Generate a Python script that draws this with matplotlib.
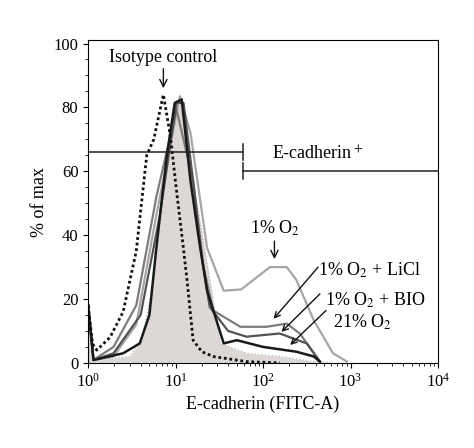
import matplotlib
matplotlib.use("Agg")
import matplotlib.pyplot as plt
import numpy as np

plt.rcParams['font.family'] = ['Liberation Serif', 'DejaVu Serif']
plt.rcParams['mathtext.fontset'] = 'stix'

iso_lx = [0, 0.05, 0.099, 0.25, 0.40, 0.55, 0.67, 0.75, 0.86, 0.94, 1.01, 1.08, 1.13, 1.20, 1.30, 1.43, 1.81, 2.19]
iso_y = [18, 6, 4, 8, 16, 35, 65, 70, 84, 71, 54, 38, 26, 7.1, 3.5, 2, 0.4, 0]
fill_lx = [0, 0.061, 0.48, 0.62, 0.75, 0.90, 1.05, 1.12, 1.20, 1.36, 1.51, 1.81, 2.19, 2.58, 2.80]
fill_y = [18, 0.9, 2, 8, 26, 62, 82.5, 72, 57, 31, 6.1, 3, 2, 0.4, 0]
blk_lx = [0, 0.061, 0.40, 0.59, 0.70, 0.78, 0.90, 0.99, 1.07, 1.17, 1.27, 1.36, 1.55, 1.70, 2.00, 2.38, 2.58, 2.65]
blk_y = [18, 0.9, 3, 6.1, 15, 36, 65, 81.4, 82.5, 57, 38, 22.6, 6.1, 7.1, 5, 3.5, 2, 0.4]
bio_lx = [0, 0.061, 0.29, 0.60, 0.82, 1.01, 1.09, 1.20, 1.30, 1.39, 1.60, 1.81, 2.19, 2.50, 2.65]
bio_y = [18, 0.9, 3, 15, 46.3, 81.4, 81.4, 57, 33, 17.5, 10, 8.2, 9.2, 6.1, 0.4]
licl_lx = [0, 0.061, 0.29, 0.55, 0.78, 1.01, 1.20, 1.32, 1.43, 1.74, 2.04, 2.27, 2.42, 2.65]
licl_y = [18, 0.9, 5, 18, 52, 79.4, 57, 30, 16.4, 11.3, 11.3, 12.3, 9.2, 0.4]
o1_lx = [0, 0.061, 0.29, 0.55, 0.78, 1.05, 1.17, 1.36, 1.55, 1.75, 1.89, 2.08, 2.27, 2.38, 2.58, 2.80, 2.96]
o1_y = [18, 0.9, 2, 12, 46.3, 83.5, 72, 36, 22.6, 23, 26, 30, 30, 26, 13.3, 3, 0.4]

fig = plt.figure(figsize=(4.74, 4.48), dpi=100)
ax = fig.add_axes([0.186, 0.19, 0.738, 0.72])

def X(l): return 10 ** np.array(l)

ax.fill_between(X(fill_lx), fill_y, color='#ddd8d6', lw=0)
ax.plot(X(fill_lx), fill_y, color='#c0bbbb', lw=1, ls=(0, (1, 1.5)))
ax.plot(X(o1_lx), o1_y, color='#a9a5a5', lw=1.6)
ax.plot(X(licl_lx), licl_y, color='#7f7b7b', lw=1.6)
ax.plot(X(bio_lx), bio_y, color='#555252', lw=1.6)
ax.plot(X(blk_lx), blk_y, color='#1a1a1a', lw=1.8)
ax.plot(X(iso_lx), iso_y, color='#111111', lw=2, ls=(0, (1, 1)))

ax.set_xscale('log')
ax.set_xlim(1, 1e4)
ax.set_ylim(0, 101)
ax.set_yticks([0, 20, 40, 60, 80, 100])
ax.set_yticks(np.arange(0, 101, 5), minor=True)
ax.tick_params(labelsize=12)
ax.set_xlabel('E-cadherin (FITC-A)', fontsize=13)
ax.set_ylabel('% of max', fontsize=13)

g = 10 ** 1.77
ax.plot([1, g], [66, 66], color='#222', lw=1.1)
ax.plot([g, g], [63.5, 68.5], color='#222', lw=1.1)
ax.plot([g, 1e4], [60, 60], color='#222', lw=1.1)
ax.plot([g, g], [57.5, 62.5], color='#222', lw=1.1)
ax.text(10 ** 2.62, 62.5, 'E-cadherin$^+$', fontsize=13, ha='center', va='bottom')

ap = dict(arrowstyle='->', color='#111', lw=1, shrinkA=0, shrinkB=0)
ax.annotate('Isotype control', xy=(10 ** 0.86, 86), xytext=(10 ** 0.86, 93),
            ha='center', va='bottom', fontsize=13, arrowprops=ap)
ax.annotate('1% O$_2$', xy=(10 ** 2.13, 32.5), xytext=(10 ** 2.13, 39),
            ha='center', va='bottom', fontsize=13, arrowprops=ap)
ax.annotate('', xy=(10 ** 2.12, 13.8), xytext=(10 ** 2.63, 30), arrowprops=ap)
ax.annotate('', xy=(10 ** 2.21, 9.7), xytext=(10 ** 2.65, 21.6), arrowprops=ap)
ax.annotate('', xy=(10 ** 2.31, 5.6), xytext=(10 ** 2.72, 16.4), arrowprops=ap)
ax.text(10 ** 3.22, 29, '1% O$_2$ + LiCl', ha='center', va='center', fontsize=13)
ax.text(10 ** 3.28, 19.5, '1% O$_2$ + BIO', ha='center', va='center', fontsize=13)
ax.text(10 ** 3.14, 12.7, '21% O$_2$', ha='center', va='center', fontsize=13)

fig.savefig('out.png', dpi=100)
